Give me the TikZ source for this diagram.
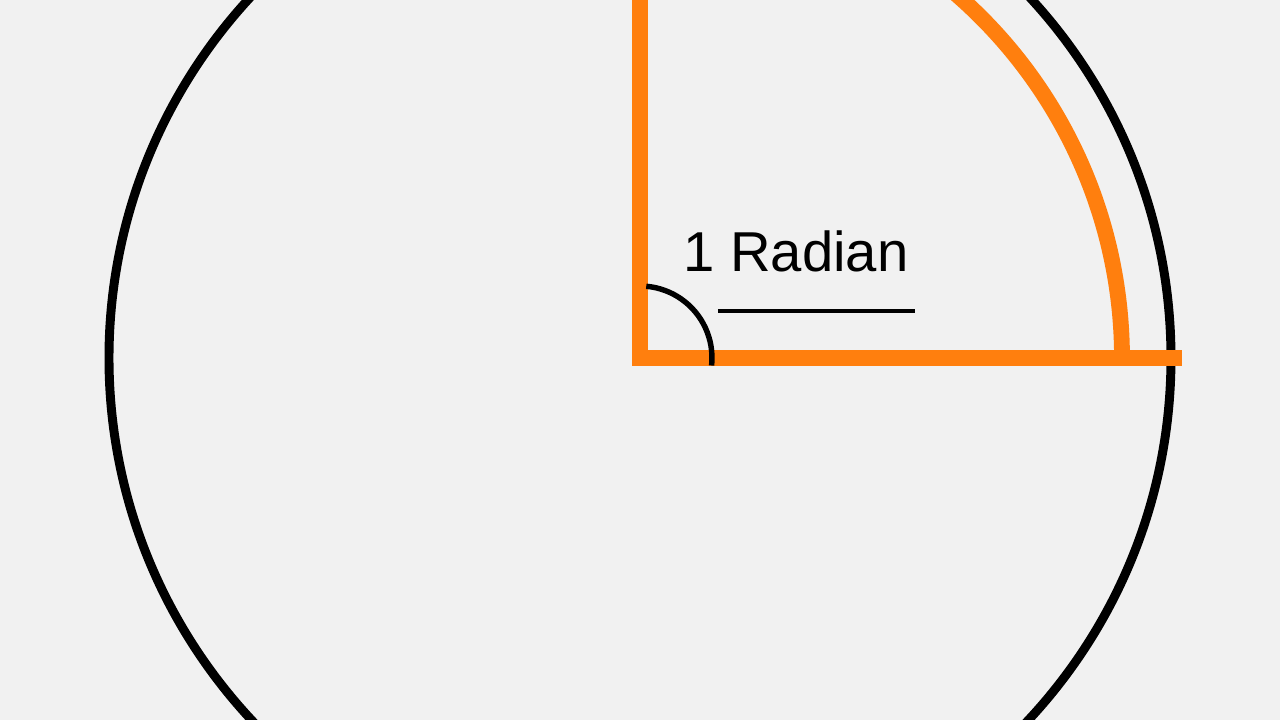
\documentclass[tikz,border=0pt]{standalone}
\usepackage{fontspec}
\setmainfont{Liberation Sans}
\definecolor{fond}{RGB}{241,241,241}
\definecolor{orangeR}{RGB}{255,127,14}
\begin{document}
\begin{tikzpicture}[x=0.2mm,y=0.2mm]
% Styles
\tikzstyle{cercle}=[black,line width=5.1pt]
\tikzstyle{rayon}=[orangeR,line width=9pt,line join=miter]
\tikzstyle{angle}=[black,line width=3.1pt]
\tikzstyle{trait}=[black,line width=2pt]
\tikzstyle{texte}=[font=\fontsize{32}{38}\selectfont,inner sep=0pt]
% Dimensions
\def\R{531}
\def\r{482}
\def\ra{72}
% Cadre
\fill[fond] (-640,-362) rectangle (640,358);
\useasboundingbox (-640,-362) rectangle (640,358);
\clip (-640,-362) rectangle (640,358);
\coordinate (O) at (0,0);
% Cercle
\draw[cercle] (O) circle (\R);
% Secteur
\draw[rayon] (0,370) -- (O) -- (542,0);
\draw[rayon] (\r,0) arc (0:95:\r);
% Angle
\draw[angle] (85:\ra) arc (85:-6:\ra);
% Etiquette
\node[texte,anchor=base] (lbl) at (156,86) {1 Radian};
\coordinate (t1) at (78,47);
\coordinate (t2) at (275,47);
\draw[trait] (t1) -- (t2);
\end{tikzpicture}
\end{document}
